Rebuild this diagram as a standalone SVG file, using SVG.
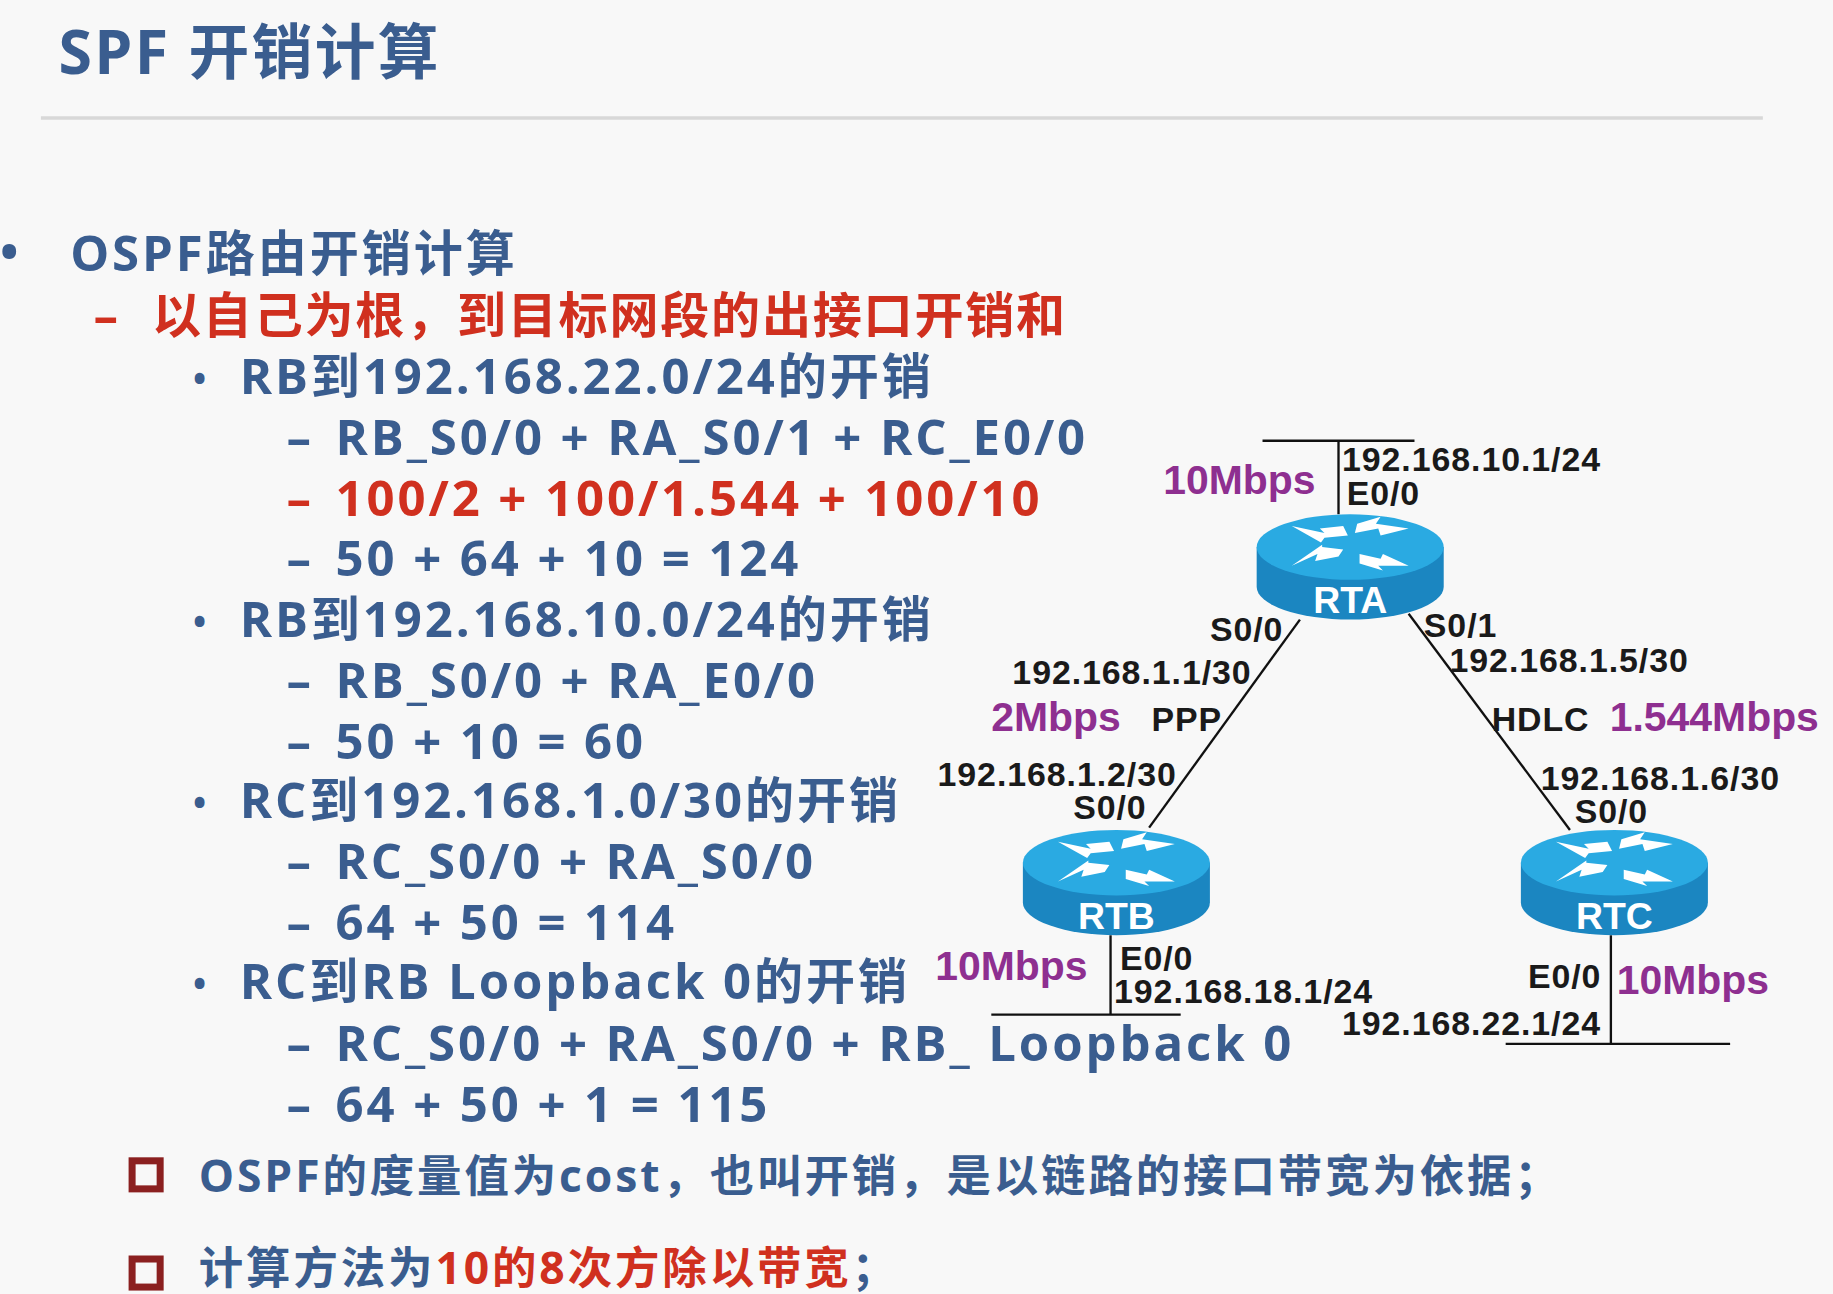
<svg xmlns="http://www.w3.org/2000/svg" width="1833" height="1294" viewBox="0 0 1833 1294">
<style>
.b{font-family:"Open Sans","Noto Sans CJK SC",sans-serif;font-weight:bold;fill:#3a5d8f;font-size:42px;letter-spacing:2.5px}
.r{fill:#d0301f}
.l{font-family:"Liberation Sans",Arial,sans-serif;font-weight:bold;fill:#1a1a1a;font-size:29px;letter-spacing:0.8px}
.p{font-family:"Liberation Sans",Arial,sans-serif;font-weight:bold;fill:#8e2f90;font-size:35px}
.w{stroke:#111;stroke-width:2;fill:none}
.rl{font-family:"Liberation Sans",Arial,sans-serif;font-weight:bold;fill:#fff;font-size:32px}
</style>
<defs>
<g id="router">
<path d="M0,30 V64 A80,28 0 0 0 160,64 V30 Z" fill="#1b86c1"/>
<ellipse cx="80" cy="30" rx="80" ry="28" fill="#2aaae2"/>
<g fill="#fff">
<polygon points="30,12 58,18 54,14 74,12 78,20 58,22 55,26"/>
<polygon points="130,14 102,10 106,4 86,10 84,18 104,14 106,20"/>
<polygon points="30,46 52,36 50,42 70,38 74,32 56,30 56,28"/>
<polygon points="130,46 104,46 108,50 88,44 88,36 106,40 108,36"/>
</g>
</g>
</defs>
<rect width="1833" height="1294" fill="#f8f8f8"/>
<g transform="scale(1.169)">
<g id="title">
<text x="50" y="63" class="b" style="font-size:52px;letter-spacing:2px">SPF 开销计算</text>
<line x1="35" y1="101" x2="1508" y2="101" stroke="#d8d8d8" stroke-width="3"/>
</g>
<g id="text">
<text x="0" y="230" class="b">•</text>
<text x="60" y="232" class="b">OSPF路由开销计算</text>
<text x="80" y="285" class="b r">–</text>
<text x="130" y="285" class="b r" style="letter-spacing:1.5px">以自己为根，到目标网段的出接口开销和</text>
<text x="165" y="335" class="b" style="font-size:30px">•</text>
<text x="205" y="337" class="b">RB到192.168.22.0/24的开销</text>
<text x="245" y="389" class="b">–</text><text x="287" y="389" class="b">RB_S0/0 + RA_S0/1 + RC_E0/0</text>
<text x="245" y="441" class="b r">–</text><text x="287" y="441" class="b r">100/2 + 100/1.544 + 100/10</text>
<text x="245" y="493" class="b">–</text><text x="287" y="493" class="b">50 + 64 + 10 = 124</text>
<text x="165" y="543" class="b" style="font-size:30px">•</text>
<text x="205" y="545" class="b">RB到192.168.10.0/24的开销</text>
<text x="245" y="597" class="b">–</text><text x="287" y="597" class="b">RB_S0/0 + RA_E0/0</text>
<text x="245" y="649" class="b">–</text><text x="287" y="649" class="b">50 + 10 = 60</text>
<text x="165" y="698" class="b" style="font-size:30px">•</text>
<text x="205" y="700" class="b">RC到192.168.1.0/30的开销</text>
<text x="245" y="752" class="b">–</text><text x="287" y="752" class="b">RC_S0/0 + RA_S0/0</text>
<text x="245" y="804" class="b">–</text><text x="287" y="804" class="b">64 + 50 = 114</text>
<text x="165" y="853" class="b" style="font-size:30px">•</text>
<text x="205" y="855" class="b">RC到RB Loopback 0的开销</text>
<text x="245" y="908" class="b">–</text><text x="287" y="908" class="b">RC_S0/0 + RA_S0/0 + RB_ Loopback 0</text>
<text x="245" y="960" class="b">–</text><text x="287" y="960" class="b">64 + 50 + 1 = 115</text>
<rect x="113" y="993" width="24" height="24" fill="none" stroke="#8b2020" stroke-width="6"/>
<text x="170" y="1020" class="b" style="font-size:38px;letter-spacing:2.5px">OSPF的度量值为cost，也叫开销，是以链路的接口带宽为依据；</text>
<rect x="113" y="1077" width="24" height="24" fill="none" stroke="#8b2020" stroke-width="6"/>
<text x="170" y="1098" class="b" style="font-size:38px;letter-spacing:2.5px">计算方法为<tspan class="r">10的8次方除以带宽</tspan>；</text>
</g>
<g id="connectors" class="w">
<path d="M1080,377 H1210 M1145,377 V440"/>
<path d="M1112,530 L983,708"/>
<path d="M1205,525 L1343,710"/>
<path d="M950,800 V868 M848,868 H1010"/>
<path d="M1378,800 V893 M1288,893 H1480"/>
</g>
<g id="RTA">
<use href="#router" x="1075" y="438"/>
<text x="1155" y="524" class="rl" text-anchor="middle">RTA</text>
</g>
<g id="RTB">
<use href="#router" x="875" y="708"/>
<text x="955" y="795" class="rl" text-anchor="middle">RTB</text>
</g>
<g id="RTC">
<use href="#router" x="1301" y="708"/>
<text x="1381" y="795" class="rl" text-anchor="middle">RTC</text>
</g>
<g id="labels">
<text x="1148" y="403" class="l">192.168.10.1/24</text>
<text x="1152" y="432" class="l">E0/0</text>
<text x="995" y="423" class="p">10Mbps</text>
<text x="1035" y="548" class="l">S0/0</text>
<text x="866" y="585" class="l">192.168.1.1/30</text>
<text x="848" y="625" class="p">2Mbps</text>
<text x="985" y="625" class="l">PPP</text>
<text x="802" y="672" class="l">192.168.1.2/30</text>
<text x="918" y="701" class="l">S0/0</text>
<text x="1218" y="545" class="l">S0/1</text>
<text x="1240" y="575" class="l">192.168.1.5/30</text>
<text x="1276" y="625" class="l">HDLC</text>
<text x="1377" y="625" class="p">1.544Mbps</text>
<text x="1318" y="676" class="l">192.168.1.6/30</text>
<text x="1347" y="704" class="l">S0/0</text>
<text x="800" y="838" class="p">10Mbps</text>
<text x="958" y="830" class="l">E0/0</text>
<text x="953" y="858" class="l">192.168.18.1/24</text>
<text x="1307" y="845" class="l">E0/0</text>
<text x="1383" y="850" class="p">10Mbps</text>
<text x="1148" y="885" class="l">192.168.22.1/24</text>
</g>
</g>
</svg>
